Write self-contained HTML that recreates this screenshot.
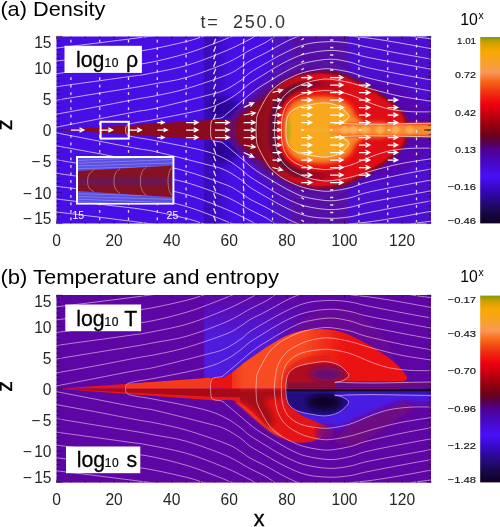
<!DOCTYPE html>
<html><head><meta charset="utf-8"><title>Jet simulation figure</title>
<style>
html,body{margin:0;padding:0;background:#fff}
body{width:500px;height:527px;overflow:hidden;font-family:"Liberation Sans",sans-serif}
svg{display:block}
text{font-family:"Liberation Sans",sans-serif}
.tk{font-size:15.6px;fill:#262626}
.cb{font-size:9.2px;fill:#111;stroke:#111;stroke-width:.15}
.fl{fill:none;stroke:#fff;stroke-width:.85;stroke-opacity:.78}
.flb{fill:none;stroke:#ffe6f4;stroke-width:.75;stroke-opacity:.72}
.ar{fill:none;stroke:#fff;stroke-width:1.25;stroke-linecap:butt}
.as{fill:none;stroke:#fff;stroke-width:1.3;stroke-opacity:.85}
</style></head><body>
<svg width="500" height="527" viewBox="0 0 500 527">
<defs>
<linearGradient id="cbar" x1="0" y1="0" x2="0" y2="1"><stop offset="0.0" stop-color="#7f9a10"/><stop offset="0.032" stop-color="#d4a000"/><stop offset="0.075" stop-color="#f8a800"/><stop offset="0.145" stop-color="#f8a030"/><stop offset="0.188" stop-color="#f89858"/><stop offset="0.236" stop-color="#f86818"/><stop offset="0.298" stop-color="#f03010"/><stop offset="0.36" stop-color="#f00010"/><stop offset="0.41" stop-color="#c80010"/><stop offset="0.472" stop-color="#980010"/><stop offset="0.523" stop-color="#700018"/><stop offset="0.564" stop-color="#58004a"/><stop offset="0.605" stop-color="#500090"/><stop offset="0.676" stop-color="#4808c8"/><stop offset="0.746" stop-color="#4810f8"/><stop offset="0.808" stop-color="#3808c8"/><stop offset="0.88" stop-color="#280880"/><stop offset="0.94" stop-color="#180848"/><stop offset="1.0" stop-color="#100020"/></linearGradient>
<clipPath id="ca"><rect x="56.5" y="36.4" width="374.5" height="187.2"/></clipPath>
<clipPath id="cbu"><rect x="56.5" y="295.0" width="374.5" height="93.80000000000001"/></clipPath>
<clipPath id="cbl"><rect x="56.5" y="388.8" width="374.5" height="93.80000000000001"/></clipPath>
<clipPath id="cb"><rect x="56.5" y="295.0" width="374.5" height="187.60000000000002"/></clipPath>
<clipPath id="cin"><rect x="78" y="158" width="94.4" height="45"/></clipPath>
<filter id="b1" x="-30%" y="-30%" width="160%" height="160%"><feGaussianBlur stdDeviation="1"/></filter>
<filter id="b2" x="-30%" y="-30%" width="160%" height="160%"><feGaussianBlur stdDeviation="2"/></filter>
<filter id="b3" x="-30%" y="-30%" width="160%" height="160%"><feGaussianBlur stdDeviation="3"/></filter>
<filter id="b5" x="-30%" y="-30%" width="160%" height="160%"><feGaussianBlur stdDeviation="5"/></filter>
<filter id="b8" x="-30%" y="-30%" width="160%" height="160%"><feGaussianBlur stdDeviation="8"/></filter>
<filter id="b12" x="-30%" y="-30%" width="160%" height="160%"><feGaussianBlur stdDeviation="12"/></filter>
<linearGradient id="dk" x1="0" y1="0" x2="1" y2="0"><stop offset="0" stop-color="#2c0890" stop-opacity=".5"/><stop offset=".5" stop-color="#2c0890" stop-opacity=".42"/><stop offset="1" stop-color="#2c0890" stop-opacity="0"/></linearGradient>
<linearGradient id="lb" x1="0" y1="0" x2="1" y2="0"><stop offset="0" stop-color="#4a22ee" stop-opacity="1"/><stop offset=".5" stop-color="#4a22ee" stop-opacity=".9"/><stop offset="1" stop-color="#4a22ee" stop-opacity="0"/></linearGradient>
<linearGradient id="lbv" x1="0" y1="0" x2="0" y2="1"><stop offset="0" stop-color="#5e06a4" stop-opacity="1"/><stop offset="1" stop-color="#5e06a4" stop-opacity="0"/></linearGradient>
<linearGradient id="insg" x1="0" y1="0" x2="0" y2="1"><stop offset="0" stop-color="#861122"/><stop offset=".3" stop-color="#841124"/><stop offset=".5" stop-color="#66185c"/><stop offset=".7" stop-color="#841124"/><stop offset="1" stop-color="#861122"/></linearGradient>
</defs>
<g clip-path="url(#ca)">
<rect x="56" y="36" width="376" height="188" fill="#480ee6"/>
<rect x="204" y="36" width="26" height="188" fill="url(#dk)"/>
<g filter="url(#b3)" fill="#1c0670" opacity=".6"><ellipse cx="224" cy="108" rx="15" ry="11"/><ellipse cx="224" cy="152" rx="15" ry="11"/></g>
<rect x="349" y="36" width="90" height="188" fill="#5410b0" opacity=".42"/>
<g filter="url(#b3)"><path d="M272,20 L296,20 L296,240 L272,240 Z" fill="#5810a0" opacity=".5"/></g>
<rect x="292" y="30" width="56.5" height="200" fill="#5810a2" opacity=".92"/>
<g filter="url(#b5)"><ellipse cx="312" cy="130" rx="70" ry="70" fill="#5810a0" opacity=".8"/></g>
<g filter="url(#b3)"><ellipse cx="368" cy="130" rx="66" ry="50" fill="#5a0aa0" opacity=".62"/></g>
<path d="M232,119.7C232.3,119.1 233.2,117.2 234,116C234.8,114.8 236,113.3 237,112.2C238,111.1 238.5,110.8 240,109.5C241.5,108.2 243.3,106.7 246,104.7C248.7,102.7 252.7,100 256,97.7C259.3,95.4 262.7,93 266,90.7C269.3,88.5 272.7,86.3 276,84.2C279.3,82.1 282,80 286,78C290,76 295.2,73.7 300,72.5C304.8,71.3 310,71 315,70.7C320,70.5 325,70.4 330,71C335,71.6 340,72.8 345,74.5C350,76.2 355,78.9 360,81.5C365,84.1 370,86.9 375,90C380,93.1 385.8,96.8 390,100C394.2,103.2 397.4,106.3 400,109C402.6,111.7 404.3,114.2 405.5,116C406.7,117.8 407.2,118.9 407,120C406.8,121.1 404.5,122.1 404,122.5L431,123 L431,137 L404,137 L404,137.5C404.5,137.9 406.8,138.9 407,140C407.2,141.1 406.7,142.2 405.5,144C404.3,145.8 402.6,148.3 400,151C397.4,153.7 394.2,156.8 390,160C385.8,163.2 380,166.9 375,170C370,173.1 365,175.9 360,178.5C355,181.1 350,183.8 345,185.5C340,187.2 335,188.4 330,189C325,189.6 320,189.6 315,189.3C310,189.1 304.8,188.7 300,187.5C295.2,186.3 290,183.9 286,182C282,180.1 279.3,177.9 276,175.8C272.7,173.7 269.3,171.6 266,169.3C262.7,167.1 259.3,164.6 256,162.3C252.7,160 248.7,157.3 246,155.3C243.3,153.3 241.5,151.8 240,150.5C238.5,149.2 238,148.9 237,147.8C236,146.7 234.8,145.2 234,144C233.2,142.8 232.3,140.9 232,140.3Z" fill="#5a0890" stroke="#560890" stroke-width="4" stroke-linejoin="round" filter="url(#b1)"/>
<path d="M56.5,130.0 L216,119.5 L229,120 L237,119 L237,141 L229,140 L216,140.5 Z" fill="#8c0a1e"/>
<path d="M232,119.7C232.3,119.1 233.2,117.2 234,116C234.8,114.8 236,113.3 237,112.2C238,111.1 238.5,110.8 240,109.5C241.5,108.2 243.3,106.7 246,104.7C248.7,102.7 252.7,100 256,97.7C259.3,95.4 262.7,93 266,90.7C269.3,88.5 272.7,86.3 276,84.2C279.3,82.1 282,80 286,78C290,76 295.2,73.7 300,72.5C304.8,71.3 310,71 315,70.7C320,70.5 325,70.4 330,71C335,71.6 340,72.8 345,74.5C350,76.2 355,78.9 360,81.5C365,84.1 370,86.9 375,90C380,93.1 385.8,96.8 390,100C394.2,103.2 397.4,106.3 400,109C402.6,111.7 404.3,114.2 405.5,116C406.7,117.8 407.2,118.9 407,120C406.8,121.1 404.5,122.1 404,122.5L431,123 L431,137 L404,137 L404,137.5C404.5,137.9 406.8,138.9 407,140C407.2,141.1 406.7,142.2 405.5,144C404.3,145.8 402.6,148.3 400,151C397.4,153.7 394.2,156.8 390,160C385.8,163.2 380,166.9 375,170C370,173.1 365,175.9 360,178.5C355,181.1 350,183.8 345,185.5C340,187.2 335,188.4 330,189C325,189.6 320,189.6 315,189.3C310,189.1 304.8,188.7 300,187.5C295.2,186.3 290,183.9 286,182C282,180.1 279.3,177.9 276,175.8C272.7,173.7 269.3,171.6 266,169.3C262.7,167.1 259.3,164.6 256,162.3C252.7,160 248.7,157.3 246,155.3C243.3,153.3 241.5,151.8 240,150.5C238.5,149.2 238,148.9 237,147.8C236,146.7 234.8,145.2 234,144C233.2,142.8 232.3,140.9 232,140.3Z" fill="#8c0a1e"/>
<clipPath id="cca"><path d="M232,119.7C232.3,119.1 233.2,117.2 234,116C234.8,114.8 236,113.3 237,112.2C238,111.1 238.5,110.8 240,109.5C241.5,108.2 243.3,106.7 246,104.7C248.7,102.7 252.7,100 256,97.7C259.3,95.4 262.7,93 266,90.7C269.3,88.5 272.7,86.3 276,84.2C279.3,82.1 282,80 286,78C290,76 295.2,73.7 300,72.5C304.8,71.3 310,71 315,70.7C320,70.5 325,70.4 330,71C335,71.6 340,72.8 345,74.5C350,76.2 355,78.9 360,81.5C365,84.1 370,86.9 375,90C380,93.1 385.8,96.8 390,100C394.2,103.2 397.4,106.3 400,109C402.6,111.7 404.3,114.2 405.5,116C406.7,117.8 407.2,118.9 407,120C406.8,121.1 404.5,122.1 404,122.5L431,123 L431,137 L404,137 L404,137.5C404.5,137.9 406.8,138.9 407,140C407.2,141.1 406.7,142.2 405.5,144C404.3,145.8 402.6,148.3 400,151C397.4,153.7 394.2,156.8 390,160C385.8,163.2 380,166.9 375,170C370,173.1 365,175.9 360,178.5C355,181.1 350,183.8 345,185.5C340,187.2 335,188.4 330,189C325,189.6 320,189.6 315,189.3C310,189.1 304.8,188.7 300,187.5C295.2,186.3 290,183.9 286,182C282,180.1 279.3,177.9 276,175.8C272.7,173.7 269.3,171.6 266,169.3C262.7,167.1 259.3,164.6 256,162.3C252.7,160 248.7,157.3 246,155.3C243.3,153.3 241.5,151.8 240,150.5C238.5,149.2 238,148.9 237,147.8C236,146.7 234.8,145.2 234,144C233.2,142.8 232.3,140.9 232,140.3Z"/></clipPath>
<linearGradient id="pbg" gradientUnits="userSpaceOnUse" x1="230" y1="0" x2="345" y2="0"><stop offset="0" stop-color="#540890" stop-opacity=".95"/><stop offset=".45" stop-color="#580888" stop-opacity=".9"/><stop offset="1" stop-color="#600870" stop-opacity=".15"/></linearGradient>
<g clip-path="url(#cca)"><path d="M232,119.7C232.3,119.1 233.2,117.2 234,116C234.8,114.8 236,113.3 237,112.2C238,111.1 238.5,110.8 240,109.5C241.5,108.2 243.3,106.7 246,104.7C248.7,102.7 252.7,100 256,97.7C259.3,95.4 262.7,93 266,90.7C269.3,88.5 272.7,86.3 276,84.2C279.3,82.1 282,80 286,78C290,76 295.2,73.7 300,72.5C304.8,71.3 310,71 315,70.7C320,70.5 325,70.4 330,71C335,71.6 340,72.8 345,74.5C350,76.2 357.5,80.3 360,81.5 M360,178.5C357.5,179.7 350,183.8 345,185.5C340,187.2 335,188.4 330,189C325,189.6 320,189.6 315,189.3C310,189.1 304.8,188.7 300,187.5C295.2,186.3 290,183.9 286,182C282,180.1 279.3,177.9 276,175.8C272.7,173.7 269.3,171.6 266,169.3C262.7,167.1 259.3,164.6 256,162.3C252.7,160 248.7,157.3 246,155.3C243.3,153.3 241.5,151.8 240,150.5C238.5,149.2 238,148.9 237,147.8C236,146.7 234.8,145.2 234,144C233.2,142.8 232.3,140.9 232,140.3" fill="none" stroke="url(#pbg)" stroke-width="9" filter="url(#b1)"/></g>
<rect x="228" y="119" width="8.5" height="22" fill="#5a0890" opacity=".6" filter="url(#b1)"/>
<linearGradient id="shg" gradientUnits="userSpaceOnUse" x1="256" y1="0" x2="312" y2="0"><stop offset="0" stop-color="#8c0a1e"/><stop offset=".35" stop-color="#a40c1c"/><stop offset=".7" stop-color="#cc1018"/><stop offset="1" stop-color="#e01014"/></linearGradient>
<path d="M258,130C258.2,127.7 258.3,120.3 259,116C259.7,111.7 260.5,107.7 262,104C263.5,100.3 265.5,97 268,94C270.5,91 273.7,88.4 277,86C280.3,83.6 284.2,81.2 288,79.5C291.8,77.8 295.5,76.7 300,75.7C304.5,74.7 310,74 315,73.7C320,73.5 325,73.6 330,74.2C335,74.8 340,75.8 345,77.5C350,79.2 355,82 360,84.7C365,87.4 370,90.4 375,93.5C380,96.6 386,100.5 390,103.5C394,106.5 396.8,109.2 399,111.5C401.2,113.8 402.7,115.8 403.5,117.5C404.3,119.2 403.9,121.2 404,122L404,138 L404,138C403.9,138.8 404.3,140.8 403.5,142.5C402.7,144.2 401.2,146.2 399,148.5C396.8,150.8 394,153.5 390,156.5C386,159.5 380,163.4 375,166.5C370,169.6 365,172.6 360,175.3C355,178 350,180.8 345,182.5C340,184.2 335,185.2 330,185.8C325,186.4 320,186.6 315,186.3C310,186.1 304.5,185.3 300,184.3C295.5,183.3 291.8,182.2 288,180.5C284.2,178.8 280.3,176.4 277,174C273.7,171.6 270.5,169 268,166C265.5,163 263.5,159.7 262,156C260.5,152.3 259.7,148.3 259,144C258.3,139.7 258.2,132.3 258,130Z" fill="url(#shg)" filter="url(#b1)"/>
<linearGradient id="gpg" gradientUnits="userSpaceOnUse" x1="270" y1="0" x2="350" y2="0"><stop offset="0" stop-color="#600838" stop-opacity=".95"/><stop offset=".4" stop-color="#680834" stop-opacity=".9"/><stop offset="1" stop-color="#900c24" stop-opacity="0"/></linearGradient>
<path d="M349,94C347.2,92.9 342.2,89.1 338,87.5C333.8,85.9 328.8,84.9 324,84.4C319.2,84 313.8,84.2 309,84.8C304.2,85.4 299,86.4 295,88C291,89.6 287.8,91.8 285,94.5C282.2,97.2 279.8,100.3 278,104C276.2,107.7 274.8,112.2 274,116.5C273.2,120.8 273.2,127.8 273,130 M273,130C273.2,132.2 273.2,139.2 274,143.5C274.8,147.8 276.2,152.3 278,156C279.8,159.7 282.2,162.8 285,165.5C287.8,168.2 291,170.4 295,172C299,173.6 304.2,174.6 309,175.2C313.8,175.8 319.2,176 324,175.6C328.8,175.2 333.8,174.1 338,172.5C342.2,170.9 347.2,167.1 349,166" fill="none" stroke="url(#gpg)" stroke-width="8.5" filter="url(#b1)"/>
<path d="M277.5,130C277.7,127.8 277.7,120.9 278.5,117C279.3,113.1 280.7,109.6 282.5,106.5C284.3,103.4 286.8,100.7 289.5,98.5C292.2,96.3 295.2,94.5 299,93.2C302.8,92 307.2,91.3 312,91C316.8,90.7 323,90.6 328,91.2C333,91.8 338,93 342,94.5C346,96 349.3,98.1 352,100.5C354.7,102.9 356.3,106.1 358,109C359.7,111.9 361,114.5 362,118C363,121.5 363.7,128 364,130L364,130C363.7,132 363,138.5 362,142C361,145.5 359.7,148.1 358,151C356.3,153.9 354.7,157.1 352,159.5C349.3,161.9 346,163.9 342,165.5C338,167.1 333,168.2 328,168.8C323,169.4 316.8,169.3 312,169C307.2,168.7 302.8,168.1 299,166.8C295.2,165.6 292.2,163.7 289.5,161.5C286.8,159.3 284.3,156.6 282.5,153.5C280.7,150.4 279.3,146.9 278.5,143C277.7,139.1 277.7,132.2 277.5,130Z" fill="#ea1010" filter="url(#b1)"/>
<path d="M282.5,130C282.7,128 282.7,121.6 283.5,118C284.3,114.4 285.6,111.2 287.3,108.5C289.1,105.8 291.4,103.3 294,101.5C296.6,99.7 299.5,98.6 303,97.8C306.5,97 310.5,96.6 315,96.4C319.5,96.2 325.4,96.2 330,96.8C334.6,97.4 338.9,98.5 342.5,100.2C346.1,101.9 349.2,104.5 351.5,107C353.8,109.5 353.9,113.1 356,115.5C358.1,117.9 359.3,120.3 364,121.5C368.7,122.7 380.7,121.1 384,122.5C387.3,123.9 384,128.8 384,130L384,130C384,131.2 387.3,136.1 384,137.5C380.7,138.9 368.7,137.3 364,138.5C359.3,139.7 358.1,142.1 356,144.5C353.9,146.9 353.8,150.4 351.5,153C349.2,155.6 346.1,158.1 342.5,159.8C338.9,161.5 334.6,162.6 330,163.2C325.4,163.8 319.5,163.8 315,163.6C310.5,163.4 306.5,163 303,162.2C299.5,161.3 296.6,160.3 294,158.5C291.4,156.7 289.1,154.2 287.3,151.5C285.6,148.8 284.3,145.6 283.5,142C282.7,138.4 282.7,132 282.5,130Z" fill="#f46a20" filter="url(#b2)"/>
<path d="M285.7,130C285.8,128.2 285.9,122.3 286.6,119.1C287.3,115.8 288.5,112.9 290.1,110.4C291.7,107.9 293.8,105.7 296.2,104.1C298.5,102.4 301.2,101.5 304.4,100.7C307.5,99.9 311.2,99.6 315.3,99.4C319.4,99.3 324.7,99.2 328.9,99.8C333.1,100.4 337,101.3 340.3,102.9C343.6,104.4 346.4,106.7 348.5,109.1C350.5,111.4 350.7,114.6 352.6,116.8C354.5,119 358.6,121.4 359.9,122.3L359.9,137.7C358.6,138.6 354.5,141 352.6,143.2C350.7,145.4 350.5,148.6 348.5,150.9C346.4,153.3 343.6,155.6 340.3,157.1C337,158.7 333.1,159.6 328.9,160.2C324.7,160.8 319.4,160.7 315.3,160.6C311.2,160.4 307.5,160.1 304.4,159.3C301.2,158.5 298.5,157.6 296.2,155.9C293.8,154.3 291.7,152.1 290.1,149.6C288.5,147.1 287.3,144.2 286.6,140.9C285.9,137.7 285.8,131.8 285.7,130Z" fill="#f88c2a" filter="url(#b2)"/>
<rect x="338" y="123" width="100" height="14" fill="#f03812" filter="url(#b1)"/>
<rect x="334" y="124.7" width="104" height="10.6" fill="#f88a30" filter="url(#b1)"/>
<path d="M287.5,130C287.7,128.3 287.8,123 288.5,120C289.2,117 290.4,114.2 292,112C293.6,109.8 295.7,107.9 298,106.5C300.3,105.1 302.7,104.3 306,103.7C309.3,103.1 314,103 318,103C322,103 326.3,102.9 330,103.5C333.7,104.1 337.2,105 340,106.5C342.8,108 345.4,110.5 347,112.5C348.6,114.5 349.7,116.8 349.5,118.5C349.3,120.2 347.9,121.9 346,123C344.1,124.1 340.7,124.6 338,125C335.3,125.4 331.3,124.7 330,125.5C328.7,126.3 330,129.2 330,130L330,130C330,130.8 328.7,133.7 330,134.5C331.3,135.3 335.3,134.6 338,135C340.7,135.4 344.1,135.9 346,137C347.9,138.1 349.3,139.8 349.5,141.5C349.7,143.2 348.6,145.5 347,147.5C345.4,149.5 342.8,152 340,153.5C337.2,155 333.7,155.9 330,156.5C326.3,157.1 322,157 318,157C314,157 309.3,156.9 306,156.3C302.7,155.7 300.3,154.9 298,153.5C295.7,152.1 293.6,150.2 292,148C290.4,145.8 289.2,143 288.5,140C287.8,137 287.7,131.7 287.5,130Z" fill="#f7a81a" filter="url(#b1)"/>
<rect x="300" y="128.3" width="70" height="3.4" fill="#fab040" opacity=".7" filter="url(#b1)"/>
<path d="M288.3,118 C286.6,125 286.6,135 288.3,142 C291.5,136 291.5,124 288.3,118 Z" fill="#a4b010" opacity=".8" filter="url(#b1)"/>
<path d="M339.5,130 l5.5,-4.4 l5.5,4.4 l-5.5,4.4z M348,130 l5.5,-4.4 l5.5,4.4 l-5.5,4.4z M359.5,130 l5.5,-4.4 l5.5,4.4 l-5.5,4.4z M374.5,130 l5.5,-4.4 l5.5,4.4 l-5.5,4.4z M390,130 l5.5,-4.4 l5.5,4.4 l-5.5,4.4z M404.5,130 l5.5,-4.4 l5.5,4.4 l-5.5,4.4z" fill="#fbb656" opacity=".85" filter="url(#b1)"/>
<path d="M424,130 H431" stroke="#3a2620" stroke-width="1.2"/>
<path class="fl" d="M56,48.1C63.3,47.2 85,44.6 100,42.7C115,40.8 136.7,38.1 146,36.8C155.3,35.6 154.3,35.5 156,35.2 M56,211.9C63.3,212.8 85,215.4 100,217.3C115,219.2 136.7,221.9 146,223.2C155.3,224.4 154.3,224.5 156,224.8 M56,61.1C63.3,60.2 85,57.5 100,55.7C115,53.9 131.7,52.4 146,50.1C160.3,47.7 176.4,43.9 186,41.6C195.6,39.3 199.6,37.4 203.6,36.2C207.6,35 208.9,34.5 210,34.2 M56,198.9C63.3,199.8 85,202.5 100,204.3C115,206.1 131.7,207.6 146,209.9C160.3,212.3 176.4,216.1 186,218.4C195.6,220.7 199.6,222.6 203.6,223.8C207.6,225 208.9,225.5 210,225.8 M56,73.6C63.3,72.8 85,70.4 100,68.7C115,67 131.7,65.7 146,63.2C160.3,60.7 174.5,56.9 186,53.6C197.5,50.3 207.3,46.1 215,43.2C222.7,40.3 228.7,37.7 232.4,36.2C236.1,34.7 236.2,34.5 237,34.2 M56,186.4C63.3,187.2 85,189.6 100,191.3C115,193 131.7,194.3 146,196.8C160.3,199.3 174.5,203.1 186,206.4C197.5,209.7 207.3,213.9 215,216.8C222.7,219.7 228.7,222.3 232.4,223.8C236.1,225.3 236.2,225.5 237,225.8 M56,86.7C63.3,85.7 87.3,82.4 100,80.7C112.7,78.9 124.3,77.3 132,76.2C139.7,75.1 137,76 146,74.2C155,72.4 172.8,69.4 186,65.6C199.2,61.8 214.3,55.6 225,51.2C235.7,46.8 245,41.7 250,39.2C255,36.7 253.5,37 254.8,36.2C256.1,35.4 257.5,34.5 258,34.2 M56,173.3C63.3,174.3 87.3,177.6 100,179.3C112.7,181.1 124.3,182.7 132,183.8C139.7,184.9 137,184 146,185.8C155,187.6 172.8,190.6 186,194.4C199.2,198.2 214.3,204.4 225,208.8C235.7,213.2 245,218.3 250,220.8C255,223.3 253.5,223 254.8,223.8C256.1,224.6 257.5,225.5 258,225.8 M56,100.2C63.3,99 86.7,95.2 100,93C113.3,90.8 126.7,88.8 136,87.2C145.3,85.6 147.7,85.1 156,83.5C164.3,81.9 174.3,81 186,77.6C197.7,74.2 215.3,67.8 226,63.2C236.7,58.6 243.3,53.7 250,50.2C256.7,46.7 261.9,44.5 266,42.2C270.1,39.9 272.8,37.5 274.8,36.2C276.8,34.9 277.5,34.5 278,34.2 M56,159.8C63.3,161 86.7,164.8 100,167C113.3,169.2 126.7,171.2 136,172.8C145.3,174.4 147.7,174.9 156,176.5C164.3,178.1 174.3,179 186,182.4C197.7,185.8 215.3,192.2 226,196.8C236.7,201.4 243.3,206.3 250,209.8C256.7,213.3 261.9,215.5 266,217.8C270.1,220.1 272.8,222.5 274.8,223.8C276.8,225.1 277.5,225.5 278,225.8 M408,34.2C408.7,34.5 408.2,35.4 412,36.2C415.8,37 427.8,38.4 431,38.8 M408,225.8C408.7,225.5 408.2,224.6 412,223.8C415.8,223 427.8,221.6 431,221.2 M56,114.2C63.3,112.9 86.7,108.7 100,106.2C113.3,103.7 126.7,100.9 136,99.2C145.3,97.4 147.7,97.4 156,95.7C164.3,94 174.3,92.2 186,88.8C197.7,85.4 216.9,78.8 226,75.2C235.1,71.6 236.7,69.6 240.7,67.2C244.7,64.8 245.8,63.2 250,60.8C254.2,58.4 260.2,55.8 266,52.7C271.8,49.6 279.7,44.9 285,42.2C290.3,39.4 295.2,37.5 298,36.2C300.8,34.9 301.3,34.8 302,34.5 M56,145.8C63.3,147.1 86.7,151.3 100,153.8C113.3,156.3 126.7,159.1 136,160.8C145.3,162.6 147.7,162.6 156,164.3C164.3,166 174.3,167.8 186,171.2C197.7,174.6 216.9,181.2 226,184.8C235.1,188.4 236.7,190.4 240.7,192.8C244.7,195.2 245.8,196.8 250,199.2C254.2,201.6 260.2,204.2 266,207.3C271.8,210.4 279.7,215.1 285,217.8C290.3,220.6 295.2,222.5 298,223.8C300.8,225.1 301.3,225.2 302,225.5 M346,34.5C347,34.8 347.7,35.5 352,36.2C356.3,36.9 364,37.4 372,38.5C380,39.6 390.2,41.3 400,43C409.8,44.7 425.8,47.7 431,48.7 M346,225.5C347,225.2 347.7,224.5 352,223.8C356.3,223.1 364,222.6 372,221.5C380,220.4 390.2,218.7 400,217C409.8,215.3 425.8,212.2 431,211.3 M56,127.2C63.3,125.8 86.7,121.3 100,118.7C113.3,116.1 126.7,113.4 136,111.7C145.3,109.9 144.7,110.8 156,108.2C167.3,105.6 192.6,99.2 204,96.2C215.4,93.2 218.2,92.9 224.4,90.2C230.6,87.5 236.7,83.1 241,80.2C245.3,77.3 245.8,75.5 250,72.7C254.2,69.9 260.2,66.5 266,63.2C271.8,59.9 278.3,55.9 285,52.7C291.7,49.5 298.5,46 306,44.2C313.5,42.3 322.7,41.8 330,41.6C337.3,41.4 344,42.3 350,43.2C356,44.1 357.7,45.1 366,46.8C374.3,48.5 389.2,51.5 400,53.5C410.8,55.5 425.8,58.2 431,59.1 M56,132.8C63.3,134.2 86.7,138.7 100,141.3C113.3,143.9 126.7,146.6 136,148.3C145.3,150.1 144.7,149.2 156,151.8C167.3,154.4 192.6,160.8 204,163.8C215.4,166.8 218.2,167.1 224.4,169.8C230.6,172.5 236.7,176.9 241,179.8C245.3,182.7 245.8,184.5 250,187.3C254.2,190.1 260.2,193.5 266,196.8C271.8,200.1 278.3,204.1 285,207.3C291.7,210.5 298.5,214 306,215.8C313.5,217.7 322.7,218.2 330,218.4C337.3,218.6 344,217.7 350,216.8C356,215.9 357.7,214.9 366,213.2C374.3,211.5 389.2,208.5 400,206.5C410.8,204.5 425.8,201.8 431,200.9 M125.6,130C125.7,129.4 125.5,127.6 126,126.7C126.5,125.8 126.8,125.2 128.5,124.5C130.2,123.8 131.4,123.5 136,122.6C140.6,121.7 144.7,121.4 156,119.2C167.3,117 192.3,112.3 204,109.2C215.7,106.1 219.8,103.8 226,100.7C232.2,97.6 237,93.6 241,90.7C245,87.8 245.8,86.1 250,83.2C254.2,80.3 261.8,75.8 266,73.2C270.2,70.6 271,69.9 275,67.7C279,65.4 284.8,62 290,59.7C295.2,57.4 299.3,55.2 306,53.7C312.7,52.1 322.7,50.6 330,50.4C337.3,50.2 344,51.6 350,52.7C356,53.8 357.7,55.2 366,57C374.3,58.8 389.2,61.5 400,63.5C410.8,65.5 425.8,68.2 431,69.2 M125.6,130C125.7,130.6 125.5,132.4 126,133.3C126.5,134.2 126.8,134.8 128.5,135.5C130.2,136.2 131.4,136.5 136,137.4C140.6,138.3 144.7,138.6 156,140.8C167.3,143 192.3,147.7 204,150.8C215.7,153.9 219.8,156.2 226,159.3C232.2,162.4 237,166.4 241,169.3C245,172.2 245.8,173.9 250,176.8C254.2,179.7 261.8,184.2 266,186.8C270.2,189.4 271,190.1 275,192.3C279,194.6 284.8,198 290,200.3C295.2,202.6 299.3,204.8 306,206.3C312.7,207.9 322.7,209.4 330,209.6C337.3,209.8 344,208.4 350,207.3C356,206.2 357.7,204.8 366,203C374.3,201.2 389.2,198.5 400,196.5C410.8,194.5 425.8,191.8 431,190.8 M210.6,130C210.6,129 210.6,125.8 210.8,124.2C211,122.6 211.3,121.1 212,120.2C212.7,119.3 213.3,119.2 215,118.8C216.7,118.4 220.2,118.4 222,117.7C223.8,117 223.7,116.4 226,114.5C228.3,112.6 232,109.6 236,106.2C240,102.8 246.3,97.2 250,94.2C253.7,91.2 255.3,90 258,88.2C260.7,86.4 262.3,85.4 266,83.2C269.7,80.9 275.5,77.3 280,74.7C284.5,72.1 288.7,69.7 293,67.7C297.3,65.7 299.8,64.1 306,62.7C312.2,61.3 322.7,59.3 330,59.2C337.3,59.1 344,60.9 350,62.2C356,63.5 357.7,65.2 366,67.2C374.3,69.2 389.2,72.1 400,74.2C410.8,76.3 425.8,79 431,80 M210.6,130C210.6,131 210.6,134.2 210.8,135.8C211,137.4 211.3,138.9 212,139.8C212.7,140.7 213.3,140.8 215,141.2C216.7,141.6 220.2,141.6 222,142.3C223.8,143 223.7,143.6 226,145.5C228.3,147.4 232,150.4 236,153.8C240,157.2 246.3,162.8 250,165.8C253.7,168.8 255.3,170 258,171.8C260.7,173.6 262.3,174.6 266,176.8C269.7,179.1 275.5,182.7 280,185.3C284.5,187.9 288.7,190.3 293,192.3C297.3,194.3 299.8,195.9 306,197.3C312.2,198.7 322.7,200.7 330,200.8C337.3,200.9 344,199.1 350,197.8C356,196.5 357.7,194.8 366,192.8C374.3,190.8 389.2,187.9 400,185.8C410.8,183.7 425.8,181 431,180 M256,130C256.1,128.5 256.2,123.7 256.4,121.2C256.6,118.7 256.5,117.5 257.3,115.2C258.1,112.9 259.4,110.2 261,107.2C262.6,104.2 264.8,100 266.6,97.2C268.4,94.4 269.4,92.7 272,90.2C274.6,87.7 278,84.7 282,82.2C286,79.7 292,76.9 296,75.2C300,73.5 302.3,72.8 306,71.8C309.7,70.9 314,70 318,69.5C322,69 324.7,68.4 330,68.8C335.3,69.3 344,70.8 350,72.2C356,73.6 357.7,75.2 366,77.4C374.3,79.6 389.2,82.9 400,85.2C410.8,87.5 425.8,90 431,91 M256,130C256.1,131.5 256.2,136.3 256.4,138.8C256.6,141.3 256.5,142.5 257.3,144.8C258.1,147.1 259.4,149.8 261,152.8C262.6,155.8 264.8,160 266.6,162.8C268.4,165.6 269.4,167.3 272,169.8C274.6,172.3 278,175.3 282,177.8C286,180.3 292,183.1 296,184.8C300,186.5 302.3,187.2 306,188.2C309.7,189.1 314,190 318,190.5C322,191 324.7,191.6 330,191.2C335.3,190.8 344,189.2 350,187.8C356,186.4 357.7,184.8 366,182.6C374.3,180.4 389.2,177.1 400,174.8C410.8,172.5 425.8,170 431,169 M274.3,130C274.4,128.7 274.4,125.7 274.8,122.2C275.2,118.7 275.8,113.1 277,109.2C278.2,105.3 280,101.6 282,98.7C284,95.7 286.7,93.4 289,91.5C291.3,89.6 293.2,88.6 296,87.2C298.8,85.7 302.3,84 306,82.8C309.7,81.6 314,80.5 318,79.9C322,79.3 324.7,78.7 330,79.2C335.3,79.7 343,81 350,82.7C357,84.4 363.7,86.9 372,89.2C380.3,91.4 390.2,94.2 400,96.2C409.8,98.2 425.8,100.4 431,101.2 M274.3,130C274.4,131.3 274.4,134.3 274.8,137.8C275.2,141.3 275.8,146.9 277,150.8C278.2,154.7 280,158.4 282,161.3C284,164.2 286.7,166.6 289,168.5C291.3,170.4 293.2,171.4 296,172.8C298.8,174.2 302.3,176 306,177.2C309.7,178.4 314,179.5 318,180.1C322,180.7 324.7,181.3 330,180.8C335.3,180.3 343,179 350,177.3C357,175.6 363.7,173.1 372,170.8C380.3,168.6 390.2,165.8 400,163.8C409.8,161.8 425.8,159.6 431,158.8 M281.3,130C281.4,128.4 281.4,123.2 281.8,120.2C282.2,117.1 282.5,114.5 283.5,111.7C284.5,108.9 285.9,105.7 288,103.2C290.1,100.7 293,98.4 296,96.7C299,95 302.3,93.8 306,92.9C309.7,92 314,91.5 318,91.1C322,90.7 324.7,90.1 330,90.7C335.3,91.3 343,92.5 350,94.7C357,96.9 365.3,101.3 372,103.7C378.7,106.1 383.7,107.9 390,109.2C396.3,110.5 403.2,111.1 410,111.6C416.8,112 427.5,111.8 431,111.9 M281.3,130C281.4,131.6 281.4,136.8 281.8,139.8C282.2,142.9 282.5,145.5 283.5,148.3C284.5,151.1 285.9,154.3 288,156.8C290.1,159.3 293,161.6 296,163.3C299,165 302.3,166.2 306,167.1C309.7,168 314,168.5 318,168.9C322,169.3 324.7,169.9 330,169.3C335.3,168.7 343,167.5 350,165.3C357,163.1 365.3,158.7 372,156.3C378.7,153.9 383.7,152.1 390,150.8C396.3,149.5 403.2,148.9 410,148.4C416.8,148 427.5,148.2 431,148.1 M285.8,130C285.9,128.7 285.9,124.6 286.3,122.2C286.7,119.8 287,117.6 288,115.7C289,113.7 290.5,112 292.5,110.5C294.5,109 296.6,107.9 300,106.9C303.4,105.8 308.7,104.9 313,104.2C317.3,103.5 321.8,102.6 326,102.9C330.2,103.2 335.1,104.6 338.5,106.2C341.9,107.8 344.8,110.8 346.5,112.7C348.2,114.6 349.4,116.1 348.6,117.7C347.9,119.2 344.3,121 342,122C339.7,123 336,123.3 334.8,123.6 M285.8,130C285.9,131.3 285.9,135.4 286.3,137.8C286.7,140.2 287,142.4 288,144.3C289,146.2 290.5,148 292.5,149.5C294.5,151 296.6,152.1 300,153.1C303.4,154.2 308.7,155.1 313,155.8C317.3,156.5 321.8,157.4 326,157.1C330.2,156.8 335.1,155.4 338.5,153.8C341.9,152.2 344.8,149.2 346.5,147.3C348.2,145.4 349.4,143.9 348.6,142.3C347.9,140.8 344.3,139 342,138C339.7,137 336,136.7 334.8,136.4 M334.8,123.6C335.8,123.6 338.5,123.3 341,123.4C343.5,123.4 344.8,123.8 350,123.9C355.2,124 363.7,124.2 372,124.2C380.3,124.2 390.2,124 400,123.8C409.8,123.6 425.8,123.3 431,123.2 M334.8,136.4C335.8,136.4 338.5,136.7 341,136.6C343.5,136.6 344.8,136.2 350,136.1C355.2,136 363.7,135.8 372,135.8C380.3,135.8 390.2,136 400,136.2C409.8,136.4 425.8,136.7 431,136.8"/>
<path class="as" d="M70.9,39.7 v2.8 M70.9,47.2 v2.8 M70.9,54.7 v2.8 M70.9,62.2 v2.8 M70.9,69.7 v2.8 M70.9,77.2 v2.8 M70.9,84.7 v2.8 M70.9,92.2 v2.8 M70.9,99.7 v2.8 M70.9,107.2 v2.8 M70.9,114.7 v2.8 M70.9,122.2 v2.8 M70.9,137.8 v-2.8 M70.9,145.3 v-2.8 M70.9,152.8 v-2.8 M70.9,160.3 v-2.8 M70.9,167.8 v-2.8 M70.9,175.3 v-2.8 M70.9,182.8 v-2.8 M70.9,190.3 v-2.8 M70.9,197.8 v-2.8 M70.9,205.3 v-2.8 M70.9,212.8 v-2.8 M70.9,220.3 v-2.8 M99.7,39.7 v2.8 M99.7,47.2 v2.8 M99.7,54.7 v2.8 M99.7,62.2 v2.8 M99.7,69.7 v2.8 M99.7,77.2 v2.8 M99.7,84.7 v2.8 M99.7,92.2 v2.8 M99.7,99.7 v2.8 M99.7,107.2 v2.8 M99.7,114.7 v2.8 M99.7,122.2 v2.8 M99.7,137.8 v-2.8 M99.7,145.3 v-2.8 M99.7,152.8 v-2.8 M99.7,160.3 v-2.8 M99.7,167.8 v-2.8 M99.7,175.3 v-2.8 M99.7,182.8 v-2.8 M99.7,190.3 v-2.8 M99.7,197.8 v-2.8 M99.7,205.3 v-2.8 M99.7,212.8 v-2.8 M99.7,220.3 v-2.8 M128.5,39.7 v2.8 M128.5,47.2 v2.8 M128.5,54.7 v2.8 M128.5,62.2 v2.8 M128.5,69.7 v2.8 M128.5,77.2 v2.8 M128.5,84.7 v2.8 M128.5,92.2 v2.8 M128.5,99.7 v2.8 M128.5,107.2 v2.8 M128.5,114.7 v2.8 M128.5,122.2 v2.8 M128.5,137.8 v-2.8 M128.5,145.3 v-2.8 M128.5,152.8 v-2.8 M128.5,160.3 v-2.8 M128.5,167.8 v-2.8 M128.5,175.3 v-2.8 M128.5,182.8 v-2.8 M128.5,190.3 v-2.8 M128.5,197.8 v-2.8 M128.5,205.3 v-2.8 M128.5,212.8 v-2.8 M128.5,220.3 v-2.8 M157.3,39.7 v2.8 M157.3,47.2 v2.8 M157.3,54.7 v2.8 M157.3,62.2 v2.8 M157.3,69.7 v2.8 M157.3,77.2 v2.8 M157.3,84.7 v2.8 M157.3,92.2 v2.8 M157.3,99.7 v2.8 M157.3,107.2 v2.8 M157.3,114.7 v2.8 M157.3,145.3 v-2.8 M157.3,152.8 v-2.8 M157.3,160.3 v-2.8 M157.3,167.8 v-2.8 M157.3,175.3 v-2.8 M157.3,182.8 v-2.8 M157.3,190.3 v-2.8 M157.3,197.8 v-2.8 M157.3,205.3 v-2.8 M157.3,212.8 v-2.8 M157.3,220.3 v-2.8 M186.1,39.7 v2.8 M186.1,47.2 v2.8 M186.1,54.7 v2.8 M186.1,62.2 v2.8 M186.1,69.7 v2.8 M186.1,77.2 v2.8 M186.1,84.7 v2.8 M186.1,92.2 v2.8 M186.1,99.7 v2.8 M186.1,107.2 v2.8 M186.1,114.7 v2.8 M186.1,145.3 v-2.8 M186.1,152.8 v-2.8 M186.1,160.3 v-2.8 M186.1,167.8 v-2.8 M186.1,175.3 v-2.8 M186.1,182.8 v-2.8 M186.1,190.3 v-2.8 M186.1,197.8 v-2.8 M186.1,205.3 v-2.8 M186.1,212.8 v-2.8 M186.1,220.3 v-2.8 M215.7,38.7 L213.6,44.2 M215.7,46.2 L213.6,51.7 M215.7,53.7 L213.6,59.2 M215.7,61.2 L213.6,66.7 M215.7,68.7 L213.6,74.2 M215.7,76.2 L213.6,81.7 M215.7,83.7 L213.6,89.2 M215.7,91.2 L213.6,96.7 M215.7,98.7 L213.6,104.2 M215.7,106.2 L213.6,111.7 M215.7,113.7 L213.6,119.2 M215.7,146.3 L213.6,140.8 M215.7,153.8 L213.6,148.3 M215.7,161.3 L213.6,155.8 M215.7,168.8 L213.6,163.3 M215.7,176.3 L213.6,170.8 M215.7,183.8 L213.6,178.3 M215.7,191.3 L213.6,185.8 M215.7,198.8 L213.6,193.3 M215.7,206.3 L213.6,200.8 M215.7,213.8 L213.6,208.3 M215.7,221.3 L213.6,215.8 M243.9,38.7 L243.3,44.2 M243.9,46.2 L243.3,51.7 M243.9,53.7 L243.3,59.2 M243.9,61.2 L243.3,66.7 M243.9,68.7 L243.3,74.2 M243.9,76.2 L243.3,81.7 M243.9,83.7 L243.3,89.2 M243.9,91.2 L243.3,96.7 M243.9,98.7 L243.3,104.2 M243.9,161.3 L243.3,155.8 M243.9,168.8 L243.3,163.3 M243.9,176.3 L243.3,170.8 M243.9,183.8 L243.3,178.3 M243.9,191.3 L243.3,185.8 M243.9,198.8 L243.3,193.3 M243.9,206.3 L243.3,200.8 M243.9,213.8 L243.3,208.3 M243.9,221.3 L243.3,215.8 M272.5,39.7 v2.8 M272.5,47.2 v2.8 M272.5,54.7 v2.8 M272.5,62.2 v2.8 M272.5,69.7 v2.8 M272.5,77.2 v2.8 M272.5,84.7 v2.8 M272.5,175.3 v-2.8 M272.5,182.8 v-2.8 M272.5,190.3 v-2.8 M272.5,197.8 v-2.8 M272.5,205.3 v-2.8 M272.5,212.8 v-2.8 M272.5,220.3 v-2.8 M301.3,40 l2.6,-1.6 M301.3,47.5 l2.6,-1.6 M301.3,55 l2.6,-1.6 M301.3,62.5 l2.6,-1.6 M301.3,70 l2.6,-1.6 M301.3,130 h2.5 M301.3,190 l2.6,1.6 M301.3,197.5 l2.6,1.6 M301.3,205 l2.6,1.6 M301.3,212.5 l2.6,1.6 M301.3,220 l2.6,1.6 M330.1,40 l3.2,0 M330.1,47.5 l3.2,0 M330.1,55 l3.2,0 M330.1,62.5 l3.2,0 M330.1,70 l3.2,0 M330.1,130 h2.5 M330.1,190 l3.2,0 M330.1,197.5 l3.2,0 M330.1,205 l3.2,0 M330.1,212.5 l3.2,0 M330.1,220 l3.2,0 M358.9,39.9 v-2.7 M358.9,47.4 v-2.7 M358.9,54.9 v-2.7 M358.9,62.4 v-2.7 M358.9,69.9 v-2.7 M358.9,77.4 v-2.7 M358.9,130 h2.5 M358.9,182.6 v2.7 M358.9,190.1 v2.7 M358.9,197.6 v2.7 M358.9,205.1 v2.7 M358.9,212.6 v2.7 M358.9,220.1 v2.7 M387.7,39.9 v-2.7 M387.7,47.4 v-2.7 M387.7,54.9 v-2.7 M387.7,62.4 v-2.7 M387.7,69.9 v-2.7 M387.7,77.4 v-2.7 M387.7,84.9 v-2.7 M387.7,92.4 v-2.7 M387.7,130 h2.5 M387.7,167.6 v2.7 M387.7,175.1 v2.7 M387.7,182.6 v2.7 M387.7,190.1 v2.7 M387.7,197.6 v2.7 M387.7,205.1 v2.7 M387.7,212.6 v2.7 M387.7,220.1 v2.7 M416.5,39.9 v-2.7 M416.5,47.4 v-2.7 M416.5,54.9 v-2.7 M416.5,62.4 v-2.7 M416.5,69.9 v-2.7 M416.5,77.4 v-2.7 M416.5,84.9 v-2.7 M416.5,92.4 v-2.7 M416.5,99.9 v-2.7 M416.5,107.4 v-2.7 M416.5,114.9 v-2.7 M416.5,122.4 v-2.7 M416.5,130.1 v2.7 M416.5,137.6 v2.7 M416.5,145.1 v2.7 M416.5,152.6 v2.7 M416.5,160.1 v2.7 M416.5,167.6 v2.7 M416.5,175.1 v2.7 M416.5,182.6 v2.7 M416.5,190.1 v2.7 M416.5,197.6 v2.7 M416.5,205.1 v2.7 M416.5,212.6 v2.7 M416.5,220.1 v2.7"/>
<path class="ar" d="M70.9,130 L83.4,130 M79.5,127.9 L83.8,130 L79.5,132.1 M99.7,130 L112.2,130 M108.3,127.9 L112.6,130 L108.3,132.1 M128.5,130 L141,130 M137.1,127.9 L141.4,130 L137.1,132.1 M157.3,122.5 L163.8,122.5 M160.6,120.8 L164.2,122.5 L160.6,124.2 M157.3,130 L166.8,130 M163.6,128.3 L167.2,130 L163.6,131.7 M157.3,137.5 L163.8,137.5 M160.6,135.8 L164.2,137.5 L160.6,139.2 M186.1,122.5 L197.6,122.5 M193.7,120.4 L198,122.5 L193.7,124.6 M186.1,130 L197.6,130 M193.7,127.9 L198,130 L193.7,132.1 M186.1,137.5 L197.6,137.5 M193.7,135.4 L198,137.5 L193.7,139.6 M214.9,122.5 L228.9,122.5 M225,120.4 L229.3,122.5 L225,124.6 M214.9,130 L228.9,130 M225,127.9 L229.3,130 L225,132.1 M214.9,137.5 L228.9,137.5 M225,135.4 L229.3,137.5 L225,139.6 M243.7,107.5 L253.2,103.1 M248.8,102.9 L253.6,102.9 L250.5,106.6 M243.7,115 L254.7,113 M250.5,111.7 L255.1,112.9 L251.2,115.7 M243.7,122.5 L254.7,122.5 M250.8,120.4 L255.1,122.5 L250.8,124.6 M243.7,130 L254.7,130 M250.8,127.9 L255.1,130 L250.8,132.1 M243.7,137.5 L254.7,137.5 M250.8,135.4 L255.1,137.5 L250.8,139.6 M243.7,145 L254.7,147 M251.2,144.3 L255.1,147.1 L250.5,148.3 M243.7,152.5 L253.2,156.9 M250.5,153.4 L253.6,157.1 L248.8,157.1 M272.5,92.5 L282,90 M277.7,89 L282.4,89.9 L278.8,93 M272.5,100 L280.5,100 M277.3,98.3 L280.9,100 L277.3,101.7 M272.5,107.5 L280.5,107.5 M277.3,105.8 L280.9,107.5 L277.3,109.2 M272.5,115 L280.5,115 M277.3,113.3 L280.9,115 L277.3,116.7 M272.5,122.5 L280.5,122.5 M277.3,120.8 L280.9,122.5 L277.3,124.2 M272.5,130 L280.5,130 M277.3,128.3 L280.9,130 L277.3,131.7 M272.5,137.5 L280.5,137.5 M277.3,135.8 L280.9,137.5 L277.3,139.2 M272.5,145 L280.5,145 M277.3,143.3 L280.9,145 L277.3,146.7 M272.5,152.5 L280.5,152.5 M277.3,150.8 L280.9,152.5 L277.3,154.2 M272.5,160 L280.5,160 M277.3,158.3 L280.9,160 L277.3,161.7 M272.5,167.5 L282,170 M278.8,167 L282.4,170.1 L277.7,171 M301.3,77.5 L311.3,77.5 M307.4,75.4 L311.7,77.5 L307.4,79.6 M301.3,85 L311.3,85 M307.4,82.9 L311.7,85 L307.4,87.1 M301.3,92.5 L311.3,92.5 M307.4,90.4 L311.7,92.5 L307.4,94.6 M301.3,100 L311.3,100 M307.4,97.9 L311.7,100 L307.4,102.1 M301.3,107.5 L311.3,107.5 M307.4,105.4 L311.7,107.5 L307.4,109.6 M301.3,115 L311.3,115 M307.4,112.9 L311.7,115 L307.4,117.1 M301.3,122.5 L311.3,122.5 M307.4,120.4 L311.7,122.5 L307.4,124.6 M301.3,137.5 L311.3,137.5 M307.4,135.4 L311.7,137.5 L307.4,139.6 M301.3,145 L311.3,145 M307.4,142.9 L311.7,145 L307.4,147.1 M301.3,152.5 L311.3,152.5 M307.4,150.4 L311.7,152.5 L307.4,154.6 M301.3,160 L311.3,160 M307.4,157.9 L311.7,160 L307.4,162.1 M301.3,167.5 L311.3,167.5 M307.4,165.4 L311.7,167.5 L307.4,169.6 M301.3,175 L311.3,175 M307.4,172.9 L311.7,175 L307.4,177.1 M301.3,182.5 L311.3,182.5 M307.4,180.4 L311.7,182.5 L307.4,184.6 M330.1,77.5 L342.6,77.5 M338.7,75.4 L343,77.5 L338.7,79.6 M330.1,85 L342.6,85 M338.7,82.9 L343,85 L338.7,87.1 M330.1,92.5 L342.6,92.5 M338.7,90.4 L343,92.5 L338.7,94.6 M330.1,100 L342.6,100 M338.7,97.9 L343,100 L338.7,102.1 M330.1,107.5 L343.1,107.5 M339.2,105.4 L343.5,107.5 L339.2,109.6 M330.1,115 L343.1,115 M339.2,112.9 L343.5,115 L339.2,117.1 M330.1,122.5 L343.1,122.5 M339.2,120.4 L343.5,122.5 L339.2,124.6 M330.1,137.5 L343.1,137.5 M339.2,135.4 L343.5,137.5 L339.2,139.6 M330.1,145 L343.1,145 M339.2,142.9 L343.5,145 L339.2,147.1 M330.1,152.5 L343.1,152.5 M339.2,150.4 L343.5,152.5 L339.2,154.6 M330.1,160 L342.6,160 M338.7,157.9 L343,160 L338.7,162.1 M330.1,167.5 L342.6,167.5 M338.7,165.4 L343,167.5 L338.7,169.6 M330.1,175 L342.6,175 M338.7,172.9 L343,175 L338.7,177.1 M330.1,182.5 L342.6,182.5 M338.7,180.4 L343,182.5 L338.7,184.6 M358.9,85 L369.4,85 M365.5,82.9 L369.8,85 L365.5,87.1 M358.9,92.5 L369.4,92.5 M365.5,90.4 L369.8,92.5 L365.5,94.6 M358.9,100 L369.4,100 M365.5,97.9 L369.8,100 L365.5,102.1 M358.9,107.5 L369.4,107.5 M365.5,105.4 L369.8,107.5 L365.5,109.6 M358.9,115 L369.4,115 M365.5,112.9 L369.8,115 L365.5,117.1 M358.9,122.5 L369.4,122.5 M365.5,120.4 L369.8,122.5 L365.5,124.6 M358.9,137.5 L369.4,137.5 M365.5,135.4 L369.8,137.5 L365.5,139.6 M358.9,145 L369.4,145 M365.5,142.9 L369.8,145 L365.5,147.1 M358.9,152.5 L369.4,152.5 M365.5,150.4 L369.8,152.5 L365.5,154.6 M358.9,160 L369.4,160 M365.5,157.9 L369.8,160 L365.5,162.1 M358.9,167.5 L369.4,167.5 M365.5,165.4 L369.8,167.5 L365.5,169.6 M358.9,175 L369.4,175 M365.5,172.9 L369.8,175 L365.5,177.1 M387.7,100 L397.2,100 M393.3,97.9 L397.6,100 L393.3,102.1 M387.7,107.5 L397.2,107.5 M393.3,105.4 L397.6,107.5 L393.3,109.6 M387.7,115 L397.2,115 M393.3,112.9 L397.6,115 L393.3,117.1 M387.7,122.5 L397.2,122.5 M393.3,120.4 L397.6,122.5 L393.3,124.6 M387.7,137.5 L397.2,137.5 M393.3,135.4 L397.6,137.5 L393.3,139.6 M387.7,145 L397.2,145 M393.3,142.9 L397.6,145 L393.3,147.1 M387.7,152.5 L397.2,152.5 M393.3,150.4 L397.6,152.5 L393.3,154.6 M387.7,160 L397.2,160 M393.3,157.9 L397.6,160 L393.3,162.1"/>
<rect x="100.6" y="121.8" width="28.2" height="16.8" fill="none" stroke="#fff" stroke-width="2"/>
<rect x="76" y="156" width="98.4" height="48.6" fill="#fff"/>
<g clip-path="url(#cin)">
<rect x="78" y="158" width="95" height="45" fill="#5a4ee4"/>
<path d="M78,160.5 L172.4,156 M78,163.2 L172.4,159.5 M78,165.9 L172.4,163 M78,168.6 L172.4,166.2 M78,193.8 L172.4,196.2 M78,196.5 L172.4,199.4 M78,199.2 L172.4,202.8 M78,201.9 L172.4,206.3" stroke="#fff" stroke-opacity=".35" stroke-width=".7" fill="none"/>
<path d="M78,170.9 L172.4,165.4 L172.4,197.3 L78,190.9 Z" fill="url(#insg)"/>
<path d="M93.6,170.3 C88.1,173.3 87.6,177.2 87.6,181.2 C87.6,185.2 88.1,188.6 93.6,191.6 M120,168.8 C114.5,171.8 114,177.2 114,181.2 C114,185.2 114.5,190.3 120,193.3 M146.4,167.3 C140.9,170.3 140.4,177.2 140.4,181.2 C140.4,185.2 140.9,192.1 146.4,195.1 M174,165.7 C168.5,168.7 168,177.2 168,181.2 C168,185.2 168.5,194 174,197" stroke="#e0b090" stroke-opacity=".8" stroke-width=".7" fill="none"/>
</g>
<text x="72.5" y="218.6" font-size="10.5" fill="#fff">15</text><text x="166.6" y="218.6" font-size="10.5" fill="#fff">25</text>
<rect x="64.5" y="45.8" width="77.4" height="27.1" fill="#fff"/>
</g>
<text x="76" y="67" font-size="21.3" fill="#000" stroke="#000" stroke-width=".3">log</text><text x="104.6" y="67" font-size="12" fill="#000" stroke="#000" stroke-width=".2" letter-spacing=".5">10</text><text x="126" y="67" font-size="21.3" fill="#000" stroke="#000" stroke-width=".3">ρ</text>
<path d="M56.5,36.4 h6 M431.0,36.4 h-4.2 M56.5,40.9 h3.6 M431.0,40.9 h-2.5 M56.5,45.3 h3.6 M431.0,45.3 h-2.5 M56.5,49.8 h3.6 M431.0,49.8 h-2.5 M56.5,54.2 h3.6 M431.0,54.2 h-2.5 M56.5,58.7 h3.6 M431.0,58.7 h-2.5 M56.5,63.1 h3.6 M431.0,63.1 h-2.5 M56.5,67.6 h6 M431.0,67.6 h-4.2 M56.5,72.1 h3.6 M431.0,72.1 h-2.5 M56.5,76.5 h3.6 M431.0,76.5 h-2.5 M56.5,81 h3.6 M431.0,81 h-2.5 M56.5,85.4 h3.6 M431.0,85.4 h-2.5 M56.5,89.9 h3.6 M431.0,89.9 h-2.5 M56.5,94.3 h3.6 M431.0,94.3 h-2.5 M56.5,98.8 h6 M431.0,98.8 h-4.2 M56.5,103.3 h3.6 M431.0,103.3 h-2.5 M56.5,107.7 h3.6 M431.0,107.7 h-2.5 M56.5,112.2 h3.6 M431.0,112.2 h-2.5 M56.5,116.6 h3.6 M431.0,116.6 h-2.5 M56.5,121.1 h3.6 M431.0,121.1 h-2.5 M56.5,125.5 h3.6 M431.0,125.5 h-2.5 M56.5,130 h6 M431.0,130 h-4.2 M56.5,134.5 h3.6 M431.0,134.5 h-2.5 M56.5,138.9 h3.6 M431.0,138.9 h-2.5 M56.5,143.4 h3.6 M431.0,143.4 h-2.5 M56.5,147.8 h3.6 M431.0,147.8 h-2.5 M56.5,152.3 h3.6 M431.0,152.3 h-2.5 M56.5,156.7 h3.6 M431.0,156.7 h-2.5 M56.5,161.2 h6 M431.0,161.2 h-4.2 M56.5,165.7 h3.6 M431.0,165.7 h-2.5 M56.5,170.1 h3.6 M431.0,170.1 h-2.5 M56.5,174.6 h3.6 M431.0,174.6 h-2.5 M56.5,179 h3.6 M431.0,179 h-2.5 M56.5,183.5 h3.6 M431.0,183.5 h-2.5 M56.5,187.9 h3.6 M431.0,187.9 h-2.5 M56.5,192.4 h6 M431.0,192.4 h-4.2 M56.5,196.9 h3.6 M431.0,196.9 h-2.5 M56.5,201.3 h3.6 M431.0,201.3 h-2.5 M56.5,205.8 h3.6 M431.0,205.8 h-2.5 M56.5,210.2 h3.6 M431.0,210.2 h-2.5 M56.5,214.7 h3.6 M431.0,214.7 h-2.5 M56.5,219.1 h3.6 M431.0,219.1 h-2.5 M56.5,223.6 h6 M431.0,223.6 h-4.2 M56.5,223.6 v-3 M56.5,36.4 v3 M70.9,223.6 v-1.8 M70.9,36.4 v1.8 M85.3,223.6 v-1.8 M85.3,36.4 v1.8 M99.7,223.6 v-1.8 M99.7,36.4 v1.8 M114.1,223.6 v-3 M114.1,36.4 v3 M128.5,223.6 v-1.8 M128.5,36.4 v1.8 M142.9,223.6 v-1.8 M142.9,36.4 v1.8 M157.3,223.6 v-1.8 M157.3,36.4 v1.8 M171.7,223.6 v-3 M171.7,36.4 v3 M186.1,223.6 v-1.8 M186.1,36.4 v1.8 M200.5,223.6 v-1.8 M200.5,36.4 v1.8 M214.9,223.6 v-1.8 M214.9,36.4 v1.8 M229.3,223.6 v-3 M229.3,36.4 v3 M243.7,223.6 v-1.8 M243.7,36.4 v1.8 M258.1,223.6 v-1.8 M258.1,36.4 v1.8 M272.5,223.6 v-1.8 M272.5,36.4 v1.8 M286.9,223.6 v-3 M286.9,36.4 v3 M301.3,223.6 v-1.8 M301.3,36.4 v1.8 M315.7,223.6 v-1.8 M315.7,36.4 v1.8 M330.1,223.6 v-1.8 M330.1,36.4 v1.8 M344.5,223.6 v-3 M344.5,36.4 v3 M358.9,223.6 v-1.8 M358.9,36.4 v1.8 M373.3,223.6 v-1.8 M373.3,36.4 v1.8 M387.7,223.6 v-1.8 M387.7,36.4 v1.8 M402.1,223.6 v-3 M402.1,36.4 v3 M416.5,223.6 v-1.8 M416.5,36.4 v1.8 M430.9,223.6 v-1.8 M430.9,36.4 v1.8" stroke="#1a0a30" stroke-opacity=".65" stroke-width=".9" fill="none"/>
<rect x="56.5" y="295.0" width="374.5" height="187.60000000000002" fill="#5e06a4"/>
<g clip-path="url(#cbu)">
<rect x="204.3" y="296" width="120" height="95" fill="url(#lb)" opacity=".8"/>
<rect x="200" y="294" width="130" height="44" fill="url(#lbv)"/>
<ellipse cx="335" cy="388.8" rx="64" ry="80" fill="#6c0890" opacity=".75" filter="url(#b5)"/>
<path d="M56.5,388.8 L216,377.8 L229,378.3 L237,377.3 L237,388.8 Z" fill="#e81414"/>
<path d="M126,388.8 L127.5,383.7 L210.5,377.7 L210.5,388.8 Z" fill="#f23a1c"/>
<clipPath id="ccu"><path d="M224,377.9C224.7,377.4 226.3,376.1 228,375C229.7,373.9 232.3,372.4 234,371.2C235.7,370 236.7,368.9 238,367.8C239.3,366.7 240.7,365.5 242,364.4C243.3,363.4 243.7,363.1 246,361.5C248.3,359.9 252.7,356.8 256,354.5C259.3,352.2 262.7,349.7 266,347.5C269.3,345.3 272.7,343.4 276,341.5C279.3,339.6 282,337.7 286,336C290,334.3 295.2,332.4 300,331.3C304.8,330.2 310,329.8 315,329.5C320,329.2 325,329.2 330,329.8C335,330.4 340,331.6 345,333.3C350,335.1 355,337.7 360,340.3C365,342.9 370,345.7 375,348.8C380,351.9 385.8,355.6 390,358.8C394.2,362 397.4,365.1 400,367.8C402.6,370.5 404.3,373 405.5,374.8C406.7,376.6 407.2,377.7 407,378.8C406.8,379.9 404.5,380.9 404,381.3L404,388.8 L224,388.8 Z"/></clipPath>
<path d="M224,377.9C224.7,377.4 226.3,376.1 228,375C229.7,373.9 232.3,372.4 234,371.2C235.7,370 236.7,368.9 238,367.8C239.3,366.7 240.7,365.5 242,364.4C243.3,363.4 243.7,363.1 246,361.5C248.3,359.9 252.7,356.8 256,354.5C259.3,352.2 262.7,349.7 266,347.5C269.3,345.3 272.7,343.4 276,341.5C279.3,339.6 282,337.7 286,336C290,334.3 295.2,332.4 300,331.3C304.8,330.2 310,329.8 315,329.5C320,329.2 325,329.2 330,329.8C335,330.4 340,331.6 345,333.3C350,335.1 355,337.7 360,340.3C365,342.9 370,345.7 375,348.8C380,351.9 385.8,355.6 390,358.8C394.2,362 397.4,365.1 400,367.8C402.6,370.5 404.3,373 405.5,374.8C406.7,376.6 407.2,377.7 407,378.8C406.8,379.9 404.5,380.9 404,381.3L404,388.8 L224,388.8 Z" fill="#ea1212"/>
<linearGradient id="og" gradientUnits="userSpaceOnUse" x1="232" y1="0" x2="352" y2="0"><stop offset="0" stop-color="#f03018"/><stop offset=".1" stop-color="#f84c22"/><stop offset=".6" stop-color="#f84a20"/><stop offset=".8" stop-color="#f23018" stop-opacity=".8"/><stop offset="1" stop-color="#ea1212" stop-opacity="0"/></linearGradient>
<g clip-path="url(#ccu)"><rect x="232" y="322.8" width="122" height="70" fill="url(#og)"/><path d="M284,388.8 C284,366.8 300,357.8 330,357.8" stroke="#d81416" stroke-width="6" fill="none" opacity=".8" filter="url(#b2)"/></g>
<path d="M285.8,388.8C285.9,387.5 285.9,383.4 286.3,381C286.7,378.6 287,376.4 288,374.5C289,372.6 290.5,370.8 292.5,369.3C294.5,367.8 296.6,366.8 300,365.7C303.4,364.6 308.7,363.7 313,363C317.3,362.3 321.8,361.4 326,361.7C330.2,362 335.1,363.4 338.5,365C341.9,366.6 344.8,369.6 346.5,371.5C348.2,373.4 349.4,374.9 348.6,376.5C347.9,378.1 344.3,379.8 342,380.8C339.7,381.8 336,381.1 334.8,382.4C333.6,383.7 334.8,387.7 334.8,388.8Z" fill="#b00c20"/>
<ellipse cx="327" cy="374.3" rx="17" ry="7" fill="#641078" filter="url(#b3)"/>
<path d="M300,378.8 L345,378.8" stroke="#7a0c58" stroke-width="5" filter="url(#b2)"/>
<rect x="288" y="382.4" width="50" height="6.4" fill="#8c0c38"/>
<rect x="336" y="381.6" width="100" height="7.2" fill="#680a84"/>
<rect x="336" y="381.2" width="72" height="2.2" fill="#80107a" opacity=".8"/>
</g>
<g clip-path="url(#cbl)">
<path d="M285,388.8C285.2,390.5 285.1,395.6 286,398.8C286.9,402 288.5,404.9 290.5,407.8C292.5,410.7 294.8,413.7 298,416.3C301.2,418.9 305,421.4 310,423.3C315,425.2 322.2,427.3 328,427.8C333.8,428.3 339.3,427.8 345,426.3C350.7,424.8 356.2,421.4 362,418.8C367.8,416.2 373.7,413.2 380,410.8C386.3,408.4 391.5,405.9 400,404.3C408.5,402.7 424.3,401.9 431,401.3C437.7,400.7 438.5,402.9 440,400.8C441.5,398.7 440,390.8 440,388.8Z" fill="#4a1ae4" filter="url(#b3)"/>
<path d="M332,442.8 L350,422.8 L405,400.8 L416,407.8 L356,446.8 Z" fill="#72087c" opacity=".85" filter="url(#b3)"/>
<path d="M236,388.8 L236,402.3C236.7,402.9 238,404.1 240,405.8C242,407.5 244.8,409.7 248,412.5C251.2,415.3 255.3,419.3 259,422.4C262.7,425.5 266.3,428.6 270,431.2C273.7,433.8 277.3,436 281,437.8C284.7,439.6 288.3,441 292,441.8C295.7,442.6 299.3,443 303,442.8C306.7,442.6 310.8,441.8 314,440.8C317.2,439.8 320,439.1 322,436.8C324,434.5 326.6,429.1 326,426.8C325.4,424.5 322.2,424.6 318.4,422.8C314.6,421 307.4,418.7 303,416.1C298.6,413.5 294.7,410.3 292,407.3C289.3,404.3 288.1,401.3 287,398.2C285.9,395.1 285.8,390.4 285.6,388.8Z" fill="#e41416"/>
<path d="M236,400.7C236.7,401.3 238,402.5 240,404.2C242,405.9 244.8,408.1 248,410.9C251.2,413.7 255.3,417.7 259,420.8C262.7,423.9 266.3,427 270,429.6C273.7,432.2 279.2,435.1 281,436.2" fill="none" stroke="#fa4420" stroke-width="2.6" filter="url(#b1)"/>
<ellipse cx="325" cy="432.8" rx="9" ry="8" fill="#7c0a78" opacity=".9" filter="url(#b2)"/>
<path d="M232,388.8C232.2,390.5 231,396.5 233,398.8C235,401.1 240.5,401 244,402.8C247.5,404.6 251,407.1 254,409.8C257,412.5 259.7,416.1 262,418.8C264.3,421.5 266,425.1 268,425.8C270,426.5 273.7,425.3 274,422.8C274.3,420.3 271.3,414.8 270,410.8C268.7,406.8 264,401 266,398.8C268,396.6 279,399.5 282,397.8C285,396.1 283.7,390.3 284,388.8Z" fill="#a60c18" filter="url(#b2)"/>
<path d="M56.5,388.8 L216,400.6 L229,399.8 L240,401.8 L240,388.8 Z" fill="#e81818"/>
<path d="M56.5,388.8 L216,397 L240,397.2 L240,388.8 Z" fill="#aa0a16"/>
<path d="M285.8,388.8C285.9,390.1 285.9,394.2 286.3,396.6C286.7,399 287,401.2 288,403.1C289,405.1 290.5,406.8 292.5,408.3C294.5,409.8 296.6,410.9 300,411.9C303.4,413 308.7,413.9 313,414.6C317.3,415.3 321.8,416.2 326,415.9C330.2,415.6 335.1,414.2 338.5,412.6C341.9,411 344.8,408 346.5,406.1C348.2,404.2 349.4,402.7 348.6,401.1C347.9,399.6 344.3,397.8 342,396.8C339.7,395.8 336,396.5 334.8,395.2C333.6,393.9 334.8,389.9 334.8,388.8Z" fill="#241080" filter="url(#b1)"/>
<ellipse cx="324" cy="401.8" rx="17" ry="8" fill="#0c0428" filter="url(#b3)"/>
<rect x="286" y="388.8" width="150" height="2.6" fill="#100428"/>
<rect x="286" y="391.4" width="150" height="2.2" fill="#30108c" opacity=".7"/>
</g>
<g clip-path="url(#cb)">
<path class="flb" d="M56,306.9C63.3,306 85,303.4 100,301.5C115,299.6 136.7,296.9 146,295.6C155.3,294.4 154.3,294.3 156,294 M56,470.7C63.3,471.6 85,474.2 100,476.1C115,478 136.7,480.8 146,482C155.3,483.2 154.3,483.3 156,483.6 M56,319.9C63.3,319 85,316.3 100,314.5C115,312.7 131.7,311.2 146,308.9C160.3,306.5 176.4,302.7 186,300.4C195.6,298.1 199.6,296.2 203.6,295C207.6,293.8 208.9,293.3 210,293 M56,457.7C63.3,458.6 85,461.3 100,463.1C115,464.9 131.7,466.4 146,468.7C160.3,471.1 176.4,474.9 186,477.2C195.6,479.5 199.6,481.4 203.6,482.6C207.6,483.8 208.9,484.3 210,484.6 M56,332.4C63.3,331.6 85,329.2 100,327.5C115,325.8 131.7,324.5 146,322C160.3,319.5 174.5,315.7 186,312.4C197.5,309.1 207.3,304.9 215,302C222.7,299.1 228.7,296.5 232.4,295C236.1,293.5 236.2,293.3 237,293 M56,445.2C63.3,446 85,448.4 100,450.1C115,451.8 131.7,453.1 146,455.6C160.3,458.1 174.5,461.9 186,465.2C197.5,468.5 207.3,472.7 215,475.6C222.7,478.5 228.7,481.1 232.4,482.6C236.1,484.1 236.2,484.3 237,484.6 M56,345.5C63.3,344.5 87.3,341.2 100,339.5C112.7,337.8 124.3,336.1 132,335C139.7,333.9 137,334.8 146,333C155,331.2 172.8,328.2 186,324.4C199.2,320.6 214.3,314.4 225,310C235.7,305.6 245,300.5 250,298C255,295.5 253.5,295.8 254.8,295C256.1,294.2 257.5,293.3 258,293 M56,432.1C63.3,433.1 87.3,436.4 100,438.1C112.7,439.9 124.3,441.5 132,442.6C139.7,443.7 137,442.8 146,444.6C155,446.4 172.8,449.4 186,453.2C199.2,457 214.3,463.2 225,467.6C235.7,472 245,477.1 250,479.6C255,482.1 253.5,481.8 254.8,482.6C256.1,483.4 257.5,484.3 258,484.6 M56,359C63.3,357.8 86.7,354 100,351.8C113.3,349.6 126.7,347.6 136,346C145.3,344.4 147.7,343.9 156,342.3C164.3,340.7 174.3,339.8 186,336.4C197.7,333 215.3,326.6 226,322C236.7,317.4 243.3,312.5 250,309C256.7,305.5 261.9,303.3 266,301C270.1,298.7 272.8,296.3 274.8,295C276.8,293.7 277.5,293.3 278,293 M56,418.6C63.3,419.8 86.7,423.6 100,425.8C113.3,428 126.7,430 136,431.6C145.3,433.2 147.7,433.7 156,435.3C164.3,436.9 174.3,437.8 186,441.2C197.7,444.6 215.3,451 226,455.6C236.7,460.2 243.3,465.1 250,468.6C256.7,472.1 261.9,474.3 266,476.6C270.1,478.9 272.8,481.3 274.8,482.6C276.8,483.9 277.5,484.3 278,484.6 M408,293C408.7,293.3 408.2,294.2 412,295C415.8,295.8 427.8,297.2 431,297.6 M408,484.6C408.7,484.3 408.2,483.4 412,482.6C415.8,481.8 427.8,480.4 431,480 M56,373C63.3,371.7 86.7,367.5 100,365C113.3,362.5 126.7,359.8 136,358C145.3,356.2 147.7,356.2 156,354.5C164.3,352.8 174.3,351 186,347.6C197.7,344.2 216.9,337.6 226,334C235.1,330.4 236.7,328.4 240.7,326C244.7,323.6 245.8,322 250,319.6C254.2,317.2 260.2,314.6 266,311.5C271.8,308.4 279.7,303.8 285,301C290.3,298.2 295.2,296.3 298,295C300.8,293.7 301.3,293.6 302,293.3 M56,404.6C63.3,405.9 86.7,410.1 100,412.6C113.3,415.1 126.7,417.9 136,419.6C145.3,421.4 147.7,421.4 156,423.1C164.3,424.8 174.3,426.6 186,430C197.7,433.4 216.9,440 226,443.6C235.1,447.2 236.7,449.2 240.7,451.6C244.7,454 245.8,455.6 250,458C254.2,460.4 260.2,463 266,466.1C271.8,469.2 279.7,473.9 285,476.6C290.3,479.4 295.2,481.3 298,482.6C300.8,483.9 301.3,484 302,484.3 M346,293.3C347,293.6 347.7,294.3 352,295C356.3,295.7 364,296.2 372,297.3C380,298.4 390.2,300.1 400,301.8C409.8,303.5 425.8,306.6 431,307.5 M346,484.3C347,484 347.7,483.3 352,482.6C356.3,481.9 364,481.4 372,480.3C380,479.2 390.2,477.5 400,475.8C409.8,474.1 425.8,471.1 431,470.1 M56,386C63.3,384.6 86.7,380.1 100,377.5C113.3,374.9 126.7,372.2 136,370.5C145.3,368.8 144.7,369.6 156,367C167.3,364.4 192.6,358 204,355C215.4,352 218.2,351.7 224.4,349C230.6,346.3 236.7,341.9 241,339C245.3,336.1 245.8,334.3 250,331.5C254.2,328.7 260.2,325.3 266,322C271.8,318.7 278.3,314.7 285,311.5C291.7,308.3 298.5,304.9 306,303C313.5,301.1 322.7,300.6 330,300.4C337.3,300.2 344,301.1 350,302C356,302.9 357.7,303.9 366,305.6C374.3,307.3 389.2,310.2 400,312.3C410.8,314.4 425.8,317 431,317.9 M56,391.6C63.3,393 86.7,397.5 100,400.1C113.3,402.7 126.7,405.4 136,407.1C145.3,408.9 144.7,408 156,410.6C167.3,413.2 192.6,419.6 204,422.6C215.4,425.6 218.2,425.9 224.4,428.6C230.6,431.3 236.7,435.7 241,438.6C245.3,441.5 245.8,443.3 250,446.1C254.2,448.9 260.2,452.3 266,455.6C271.8,458.9 278.3,462.9 285,466.1C291.7,469.3 298.5,472.8 306,474.6C313.5,476.5 322.7,477 330,477.2C337.3,477.4 344,476.5 350,475.6C356,474.7 357.7,473.7 366,472C374.3,470.3 389.2,467.4 400,465.3C410.8,463.2 425.8,460.6 431,459.7 M125.6,388.8C125.7,388.2 125.5,386.4 126,385.5C126.5,384.6 126.8,384 128.5,383.3C130.2,382.6 131.4,382.3 136,381.4C140.6,380.5 144.7,380.2 156,378C167.3,375.8 192.3,371.1 204,368C215.7,364.9 219.8,362.6 226,359.5C232.2,356.4 237,352.4 241,349.5C245,346.6 245.8,344.9 250,342C254.2,339.1 261.8,334.6 266,332C270.2,329.4 271,328.8 275,326.5C279,324.2 284.8,320.8 290,318.5C295.2,316.2 299.3,314.1 306,312.5C312.7,310.9 322.7,309.4 330,309.2C337.3,309 344,310.4 350,311.5C356,312.6 357.7,314 366,315.8C374.3,317.6 389.2,320.3 400,322.3C410.8,324.3 425.8,327.1 431,328 M125.6,388.8C125.7,389.4 125.5,391.2 126,392.1C126.5,393 126.8,393.6 128.5,394.3C130.2,395 131.4,395.3 136,396.2C140.6,397.1 144.7,397.4 156,399.6C167.3,401.8 192.3,406.5 204,409.6C215.7,412.7 219.8,415 226,418.1C232.2,421.2 237,425.2 241,428.1C245,431 245.8,432.7 250,435.6C254.2,438.5 261.8,443 266,445.6C270.2,448.2 271,448.9 275,451.1C279,453.4 284.8,456.8 290,459.1C295.2,461.4 299.3,463.6 306,465.1C312.7,466.7 322.7,468.2 330,468.4C337.3,468.6 344,467.2 350,466.1C356,465 357.7,463.6 366,461.8C374.3,460 389.2,457.3 400,455.3C410.8,453.3 425.8,450.6 431,449.6 M210.6,388.8C210.6,387.8 210.6,384.6 210.8,383C211,381.4 211.3,379.9 212,379C212.7,378.1 213.3,378 215,377.6C216.7,377.2 220.2,377.2 222,376.5C223.8,375.8 223.7,375.2 226,373.3C228.3,371.4 232,368.4 236,365C240,361.6 246.3,356 250,353C253.7,350 255.3,348.8 258,347C260.7,345.2 262.3,344.2 266,342C269.7,339.8 275.5,336.1 280,333.5C284.5,330.9 288.7,328.5 293,326.5C297.3,324.5 299.8,322.9 306,321.5C312.2,320.1 322.7,318.1 330,318C337.3,317.9 344,319.7 350,321C356,322.3 357.7,324 366,326C374.3,328 389.2,330.9 400,333C410.8,335.1 425.8,337.8 431,338.8 M210.6,388.8C210.6,389.8 210.6,393 210.8,394.6C211,396.2 211.3,397.7 212,398.6C212.7,399.5 213.3,399.6 215,400C216.7,400.4 220.2,400.4 222,401.1C223.8,401.8 223.7,402.4 226,404.3C228.3,406.2 232,409.2 236,412.6C240,416 246.3,421.6 250,424.6C253.7,427.6 255.3,428.8 258,430.6C260.7,432.4 262.3,433.4 266,435.6C269.7,437.9 275.5,441.5 280,444.1C284.5,446.7 288.7,449.1 293,451.1C297.3,453.1 299.8,454.7 306,456.1C312.2,457.5 322.7,459.5 330,459.6C337.3,459.7 344,457.9 350,456.6C356,455.3 357.7,453.6 366,451.6C374.3,449.6 389.2,446.7 400,444.6C410.8,442.5 425.8,439.8 431,438.8 M256,388.8C256.1,387.3 256.2,382.5 256.4,380C256.6,377.5 256.5,376.3 257.3,374C258.1,371.7 259.4,369 261,366C262.6,363 264.8,358.8 266.6,356C268.4,353.2 269.4,351.5 272,349C274.6,346.5 278,343.5 282,341C286,338.5 292,335.7 296,334C300,332.3 302.3,331.6 306,330.6C309.7,329.7 314,328.8 318,328.3C322,327.8 324.7,327.2 330,327.6C335.3,328.1 344,329.6 350,331C356,332.4 357.7,334 366,336.2C374.3,338.4 389.2,341.7 400,344C410.8,346.3 425.8,348.8 431,349.8 M256,388.8C256.1,390.3 256.2,395.1 256.4,397.6C256.6,400.1 256.5,401.3 257.3,403.6C258.1,405.9 259.4,408.6 261,411.6C262.6,414.6 264.8,418.8 266.6,421.6C268.4,424.4 269.4,426.1 272,428.6C274.6,431.1 278,434.1 282,436.6C286,439.1 292,441.9 296,443.6C300,445.3 302.3,446.1 306,447C309.7,447.9 314,448.8 318,449.3C322,449.8 324.7,450.4 330,450C335.3,449.6 344,448 350,446.6C356,445.2 357.7,443.6 366,441.4C374.3,439.2 389.2,435.9 400,433.6C410.8,431.3 425.8,428.8 431,427.8 M274.3,388.8C274.4,387.5 274.4,384.5 274.8,381C275.2,377.5 275.8,371.9 277,368C278.2,364.1 280,360.4 282,357.5C284,354.6 286.7,352.2 289,350.3C291.3,348.4 293.2,347.4 296,346C298.8,344.6 302.3,342.8 306,341.6C309.7,340.4 314,339.3 318,338.7C322,338.1 324.7,337.5 330,338C335.3,338.5 343,339.8 350,341.5C357,343.2 363.7,345.8 372,348C380.3,350.2 390.2,353 400,355C409.8,357 425.8,359.2 431,360 M274.3,388.8C274.4,390.1 274.4,393.1 274.8,396.6C275.2,400.1 275.8,405.7 277,409.6C278.2,413.5 280,417.2 282,420.1C284,423.1 286.7,425.4 289,427.3C291.3,429.2 293.2,430.2 296,431.6C298.8,433.1 302.3,434.8 306,436C309.7,437.2 314,438.3 318,438.9C322,439.5 324.7,440.1 330,439.6C335.3,439.1 343,437.8 350,436.1C357,434.4 363.7,431.9 372,429.6C380.3,427.4 390.2,424.6 400,422.6C409.8,420.6 425.8,418.4 431,417.6 M281.3,388.8C281.4,387.2 281.4,382.1 281.8,379C282.2,375.9 282.5,373.3 283.5,370.5C284.5,367.7 285.9,364.5 288,362C290.1,359.5 293,357.2 296,355.5C299,353.8 302.3,352.6 306,351.7C309.7,350.8 314,350.3 318,349.9C322,349.5 324.7,348.9 330,349.5C335.3,350.1 343,351.3 350,353.5C357,355.7 365.3,360.1 372,362.5C378.7,364.9 383.7,366.7 390,368C396.3,369.3 403.2,369.9 410,370.4C416.8,370.8 427.5,370.6 431,370.7 M281.3,388.8C281.4,390.4 281.4,395.6 281.8,398.6C282.2,401.7 282.5,404.3 283.5,407.1C284.5,409.9 285.9,413.1 288,415.6C290.1,418.1 293,420.4 296,422.1C299,423.8 302.3,425 306,425.9C309.7,426.8 314,427.3 318,427.7C322,428.1 324.7,428.7 330,428.1C335.3,427.5 343,426.3 350,424.1C357,421.9 365.3,417.5 372,415.1C378.7,412.7 383.7,410.9 390,409.6C396.3,408.3 403.2,407.7 410,407.2C416.8,406.8 427.5,407 431,406.9 M285.8,388.8C285.9,387.5 285.9,383.4 286.3,381C286.7,378.6 287,376.4 288,374.5C289,372.6 290.5,370.8 292.5,369.3C294.5,367.8 296.6,366.8 300,365.7C303.4,364.6 308.7,363.7 313,363C317.3,362.3 321.8,361.4 326,361.7C330.2,362 335.1,363.4 338.5,365C341.9,366.6 344.8,369.6 346.5,371.5C348.2,373.4 349.4,374.9 348.6,376.5C347.9,378.1 344.3,379.8 342,380.8C339.7,381.8 336,382.1 334.8,382.4 M285.8,388.8C285.9,390.1 285.9,394.2 286.3,396.6C286.7,399 287,401.2 288,403.1C289,405.1 290.5,406.8 292.5,408.3C294.5,409.8 296.6,410.9 300,411.9C303.4,413 308.7,413.9 313,414.6C317.3,415.3 321.8,416.2 326,415.9C330.2,415.6 335.1,414.2 338.5,412.6C341.9,411 344.8,408 346.5,406.1C348.2,404.2 349.4,402.7 348.6,401.1C347.9,399.6 344.3,397.8 342,396.8C339.7,395.8 336,395.5 334.8,395.2 M334.8,382.4C335.8,382.4 338.5,382.1 341,382.2C343.5,382.2 344.8,382.6 350,382.7C355.2,382.8 363.7,383 372,383C380.3,383 390.2,382.8 400,382.6C409.8,382.4 425.8,382.1 431,382 M334.8,395.2C335.8,395.2 338.5,395.5 341,395.4C343.5,395.4 344.8,395 350,394.9C355.2,394.8 363.7,394.6 372,394.6C380.3,394.6 390.2,394.8 400,395C409.8,395.2 425.8,395.5 431,395.6"/>
<rect x="65.3" y="304.5" width="75.8" height="26.7" fill="#fff"/>
<rect x="66" y="446.5" width="74.3" height="26.7" fill="#fff"/>
</g>
<text x="76.3" y="325.6" font-size="21.3" fill="#000" stroke="#000" stroke-width=".3">log</text><text x="104.6" y="325.6" font-size="12" fill="#000" stroke="#000" stroke-width=".2" letter-spacing=".5">10</text><text x="124.2" y="325.6" font-size="21.3" fill="#000" stroke="#000" stroke-width=".3">T</text>
<text x="76.8" y="467.4" font-size="21.3" fill="#000" stroke="#000" stroke-width=".3">log</text><text x="104.8" y="467.4" font-size="12" fill="#000" stroke="#000" stroke-width=".2" letter-spacing=".5">10</text><text x="126.6" y="467.4" font-size="21.3" fill="#000" stroke="#000" stroke-width=".3">s</text>
<path d="M56.5,295.2 h6 M431.0,295.2 h-4.2 M56.5,299.7 h3.6 M431.0,299.7 h-2.5 M56.5,304.1 h3.6 M431.0,304.1 h-2.5 M56.5,308.6 h3.6 M431.0,308.6 h-2.5 M56.5,313 h3.6 M431.0,313 h-2.5 M56.5,317.5 h3.6 M431.0,317.5 h-2.5 M56.5,321.9 h3.6 M431.0,321.9 h-2.5 M56.5,326.4 h6 M431.0,326.4 h-4.2 M56.5,330.9 h3.6 M431.0,330.9 h-2.5 M56.5,335.3 h3.6 M431.0,335.3 h-2.5 M56.5,339.8 h3.6 M431.0,339.8 h-2.5 M56.5,344.2 h3.6 M431.0,344.2 h-2.5 M56.5,348.7 h3.6 M431.0,348.7 h-2.5 M56.5,353.1 h3.6 M431.0,353.1 h-2.5 M56.5,357.6 h6 M431.0,357.6 h-4.2 M56.5,362.1 h3.6 M431.0,362.1 h-2.5 M56.5,366.5 h3.6 M431.0,366.5 h-2.5 M56.5,371 h3.6 M431.0,371 h-2.5 M56.5,375.4 h3.6 M431.0,375.4 h-2.5 M56.5,379.9 h3.6 M431.0,379.9 h-2.5 M56.5,384.3 h3.6 M431.0,384.3 h-2.5 M56.5,388.8 h6 M431.0,388.8 h-4.2 M56.5,393.3 h3.6 M431.0,393.3 h-2.5 M56.5,397.7 h3.6 M431.0,397.7 h-2.5 M56.5,402.2 h3.6 M431.0,402.2 h-2.5 M56.5,406.6 h3.6 M431.0,406.6 h-2.5 M56.5,411.1 h3.6 M431.0,411.1 h-2.5 M56.5,415.5 h3.6 M431.0,415.5 h-2.5 M56.5,420 h6 M431.0,420 h-4.2 M56.5,424.5 h3.6 M431.0,424.5 h-2.5 M56.5,428.9 h3.6 M431.0,428.9 h-2.5 M56.5,433.4 h3.6 M431.0,433.4 h-2.5 M56.5,437.8 h3.6 M431.0,437.8 h-2.5 M56.5,442.3 h3.6 M431.0,442.3 h-2.5 M56.5,446.7 h3.6 M431.0,446.7 h-2.5 M56.5,451.2 h6 M431.0,451.2 h-4.2 M56.5,455.7 h3.6 M431.0,455.7 h-2.5 M56.5,460.1 h3.6 M431.0,460.1 h-2.5 M56.5,464.6 h3.6 M431.0,464.6 h-2.5 M56.5,469 h3.6 M431.0,469 h-2.5 M56.5,473.5 h3.6 M431.0,473.5 h-2.5 M56.5,477.9 h3.6 M431.0,477.9 h-2.5 M56.5,482.4 h6 M431.0,482.4 h-4.2 M56.5,482.6 v-3 M56.5,295 v3 M70.9,482.6 v-1.8 M70.9,295 v1.8 M85.3,482.6 v-1.8 M85.3,295 v1.8 M99.7,482.6 v-1.8 M99.7,295 v1.8 M114.1,482.6 v-3 M114.1,295 v3 M128.5,482.6 v-1.8 M128.5,295 v1.8 M142.9,482.6 v-1.8 M142.9,295 v1.8 M157.3,482.6 v-1.8 M157.3,295 v1.8 M171.7,482.6 v-3 M171.7,295 v3 M186.1,482.6 v-1.8 M186.1,295 v1.8 M200.5,482.6 v-1.8 M200.5,295 v1.8 M214.9,482.6 v-1.8 M214.9,295 v1.8 M229.3,482.6 v-3 M229.3,295 v3 M243.7,482.6 v-1.8 M243.7,295 v1.8 M258.1,482.6 v-1.8 M258.1,295 v1.8 M272.5,482.6 v-1.8 M272.5,295 v1.8 M286.9,482.6 v-3 M286.9,295 v3 M301.3,482.6 v-1.8 M301.3,295 v1.8 M315.7,482.6 v-1.8 M315.7,295 v1.8 M330.1,482.6 v-1.8 M330.1,295 v1.8 M344.5,482.6 v-3 M344.5,295 v3 M358.9,482.6 v-1.8 M358.9,295 v1.8 M373.3,482.6 v-1.8 M373.3,295 v1.8 M387.7,482.6 v-1.8 M387.7,295 v1.8 M402.1,482.6 v-3 M402.1,295 v3 M416.5,482.6 v-1.8 M416.5,295 v1.8 M430.9,482.6 v-1.8 M430.9,295 v1.8" stroke="#1a0a30" stroke-opacity=".65" stroke-width=".9" fill="none"/>
<rect x="480.2" y="37" width="20" height="186.4" fill="url(#cbar)"/>
<rect x="480.2" y="295.6" width="20" height="186.8" fill="url(#cbar)"/>
<text class="cb" x="476" y="43.8" text-anchor="end" textLength="19" lengthAdjust="spacingAndGlyphs">1.01</text><text class="cb" x="476" y="77.9" text-anchor="end" textLength="20.9" lengthAdjust="spacingAndGlyphs">0.72</text><text class="cb" x="476" y="115.6" text-anchor="end" textLength="20.9" lengthAdjust="spacingAndGlyphs">0.42</text><text class="cb" x="476" y="152.8" text-anchor="end" textLength="20.9" lengthAdjust="spacingAndGlyphs">0.13</text><text class="cb" x="476" y="190.2" text-anchor="end" textLength="28.4" lengthAdjust="spacingAndGlyphs">−0.16</text><text class="cb" x="476" y="223.5" text-anchor="end" textLength="28.4" lengthAdjust="spacingAndGlyphs">−0.46</text><text class="cb" x="476" y="302.9" text-anchor="end" textLength="28.4" lengthAdjust="spacingAndGlyphs">−0.17</text><text class="cb" x="476" y="337" text-anchor="end" textLength="28.4" lengthAdjust="spacingAndGlyphs">−0.43</text><text class="cb" x="476" y="374.3" text-anchor="end" textLength="28.4" lengthAdjust="spacingAndGlyphs">−0.70</text><text class="cb" x="476" y="411.7" text-anchor="end" textLength="28.4" lengthAdjust="spacingAndGlyphs">−0.96</text><text class="cb" x="476" y="449" text-anchor="end" textLength="28.4" lengthAdjust="spacingAndGlyphs">−1.22</text><text class="cb" x="476" y="482.6" text-anchor="end" textLength="28.4" lengthAdjust="spacingAndGlyphs">−1.48</text>
<text x="460.2" y="25.2" font-size="15.8" fill="#000">10</text><text x="478.4" y="19.2" font-size="10.4" fill="#000">x</text>
<text x="460.2" y="282.3" font-size="15.8" fill="#000">10</text><text x="478.4" y="276.3" font-size="10.4" fill="#000">x</text>
<text x="0.4" y="16" font-size="21" fill="#000" textLength="105" lengthAdjust="spacingAndGlyphs">(a) Density</text>
<text x="0.4" y="284.2" font-size="21" fill="#000" textLength="278.5" lengthAdjust="spacingAndGlyphs">(b) Temperature and entropy</text>
<text x="200.4" y="28" font-size="18" fill="#333" textLength="84.5" lengthAdjust="spacing" xml:space="preserve">t=  250.0</text>
<text class="tk" x="51.5" y="47.7" text-anchor="end">15</text><text class="tk" x="51.5" y="73.7" text-anchor="end">10</text><text class="tk" x="51.5" y="104.9" text-anchor="end">5</text><text class="tk" x="51.5" y="136.1" text-anchor="end">0</text><text class="tk" x="51.5" y="167.3" text-anchor="end">−<tspan dx="2.4">5</tspan></text><text class="tk" x="51.5" y="198.5" text-anchor="end">−<tspan dx="2.4">10</tspan></text><text class="tk" x="51.5" y="223.9" text-anchor="end">−<tspan dx="2.4">15</tspan></text><text class="tk" x="56.5" y="246.3" text-anchor="middle">0</text><text class="tk" x="114.1" y="246.3" text-anchor="middle">20</text><text class="tk" x="171.7" y="246.3" text-anchor="middle">40</text><text class="tk" x="229.3" y="246.3" text-anchor="middle">60</text><text class="tk" x="286.9" y="246.3" text-anchor="middle">80</text><text class="tk" x="344.5" y="246.3" text-anchor="middle">100</text><text class="tk" x="402.1" y="246.3" text-anchor="middle">120</text>
<text class="tk" x="51.5" y="307" text-anchor="end">15</text><text class="tk" x="51.5" y="332.5" text-anchor="end">10</text><text class="tk" x="51.5" y="363.7" text-anchor="end">5</text><text class="tk" x="51.5" y="394.9" text-anchor="end">0</text><text class="tk" x="51.5" y="426.1" text-anchor="end">−<tspan dx="2.4">5</tspan></text><text class="tk" x="51.5" y="457.3" text-anchor="end">−<tspan dx="2.4">10</tspan></text><text class="tk" x="51.5" y="483.4" text-anchor="end">−<tspan dx="2.4">15</tspan></text><text class="tk" x="56.5" y="505.2" text-anchor="middle">0</text><text class="tk" x="114.1" y="505.2" text-anchor="middle">20</text><text class="tk" x="171.7" y="505.2" text-anchor="middle">40</text><text class="tk" x="229.3" y="505.2" text-anchor="middle">60</text><text class="tk" x="286.9" y="505.2" text-anchor="middle">80</text><text class="tk" x="344.5" y="505.2" text-anchor="middle">100</text><text class="tk" x="402.1" y="505.2" text-anchor="middle">120</text>
<text transform="translate(12,130.2) rotate(-90)" font-size="21.5" fill="#000" stroke="#000" stroke-width=".35">z</text>
<text transform="translate(12,391.7) rotate(-90)" font-size="21.5" fill="#000" stroke="#000" stroke-width=".35">z</text>
<text x="253.8" y="526.2" font-size="21.5" fill="#000" stroke="#000" stroke-width=".35">x</text>
</svg>
</body></html>
